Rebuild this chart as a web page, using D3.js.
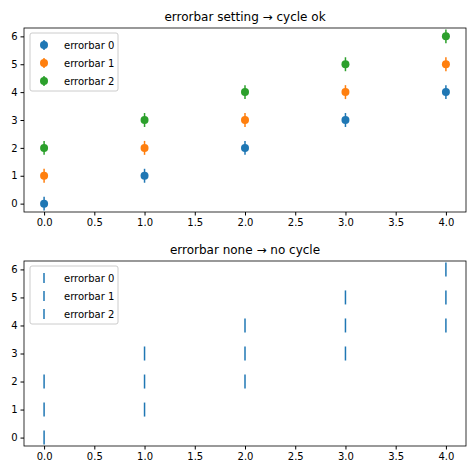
<!DOCTYPE html><html><head><script src="https://cdn.jsdelivr.net/npm/d3@7"></script>
<style>body{margin:0}text{font-family:"DejaVu Sans"}</style></head><body><svg id="s" width="474" height="474"></svg><script>
const xs=[0,1,2,3,4];
const series0=[0,1,2,3,4], series1=[1,2,3,4,5], series2=[2,3,4,5,6];
const errs=[0.25,0.25,0.25,0.25,0.25];
const names=["errorbar 0","errorbar 1","errorbar 2"];
const xticks=[0,0.5,1,1.5,2,2.5,3,3.5,4], yticks=[0,1,2,3,4,5,6];
const titles=["errorbar setting → cycle ok","errorbar none → no cycle"];
const colors=["#1f77b4","#ff7f0e","#2ca02c"];
const svg=d3.select("#s");
const all=[series0,series1,series2];
[[28,212],[261,446]].forEach(([top,bot],pi)=>{
 const x=d3.scaleLinear().domain([-0.2,4.2]).range([24,466]);
 const y=d3.scaleLinear().domain([-0.3,6.3]).range([bot,top]);
 const g=svg.append("g");
 g.append("g").attr("transform",`translate(0,${bot})`).call(d3.axisBottom(x).tickValues(xticks).tickFormat(d3.format(".1f")).tickSizeOuter(0).tickSize(3.5));
 g.append("g").attr("transform",`translate(24,0)`).call(d3.axisLeft(y).tickValues(yticks).tickFormat(d3.format("d")).tickSizeOuter(0).tickSize(3.5));
 g.selectAll(".tick text").attr("font-size",10).attr("fill","#000");
 g.selectAll(".domain").remove();
 g.append("rect").attr("x",24).attr("y",top).attr("width",442).attr("height",bot-top).attr("fill","none").attr("stroke","#000").attr("stroke-width",0.8);
 g.append("text").attr("x",245).attr("y",top-7).attr("text-anchor","middle").attr("font-size",12).text(titles[pi]);
 all.forEach((s,i)=>{
  const c=pi==0?colors[i]:colors[0];
  xs.forEach((xv,j)=>{
   g.append("line").attr("x1",x(xv)).attr("x2",x(xv)).attr("y1",y(s[j]-errs[j])).attr("y2",y(s[j]+errs[j])).attr("stroke",c).attr("stroke-width",1.5);
   if(pi==0) g.append("circle").attr("cx",x(xv)).attr("cy",y(s[j])).attr("r",4).attr("fill",c);
  });
 });
 // legend
 g.append("rect").attr("x",30).attr("y",top+5).attr("width",88).attr("height",58).attr("fill","#fff").attr("stroke","#ccc").attr("rx",2);
 names.forEach((n,i)=>{
  const c=pi==0?colors[i]:colors[0], ly=top+17+i*18;
  g.append("line").attr("x1",44).attr("x2",44).attr("y1",ly-5).attr("y2",ly+5).attr("stroke",c).attr("stroke-width",1.5);
  if(pi==0) g.append("circle").attr("cx",44).attr("cy",ly).attr("r",4).attr("fill",c);
  g.append("text").attr("x",64).attr("y",ly+4).attr("font-size",10).text(n);
 });
});
</script></body></html>
